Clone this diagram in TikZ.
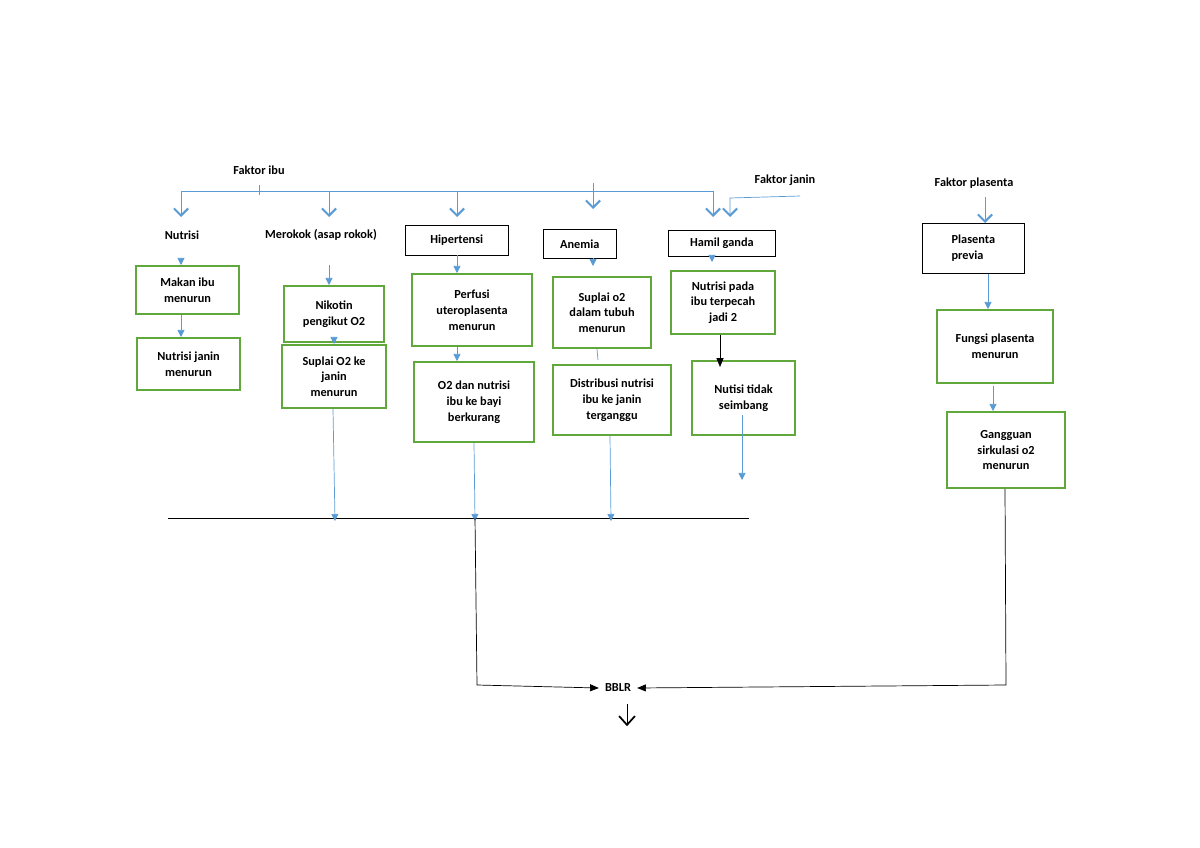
\documentclass[tikz,border=0pt]{standalone}
\usepackage{fontspec}
\setmainfont{Carlito}
\usetikzlibrary{positioning,arrows.meta}
\tikzset{>=stealth}
\definecolor{gbox}{RGB}{96,168,60}
\definecolor{barrow}{RGB}{91,155,213}
\tikzset{
  gb/.style={draw=gbox,line width=1.2pt,align=center,font=\bfseries\fontsize{7}{9}\selectfont,anchor=north west,inner sep=1pt},
  kb/.style={draw=black,thin,align=left,font=\bfseries\fontsize{7}{9}\selectfont,anchor=north west,inner sep=2pt},
  lb/.style={font=\bfseries\fontsize{7}{9}\selectfont},
  bl/.style={draw=barrow,thin,-{Triangle[length=4pt,width=4pt]}},
  bv/.style={draw=barrow,thin,-{Straight Barb[length=4pt,width=8pt,line width=1.2pt]}},
  kl/.style={draw=black,thin,-{Triangle[length=5pt,width=4pt]}}
}
\begin{document}
\begin{tikzpicture}[x=0.02cm,y=-0.02cm]
\useasboundingbox (0,0) rectangle (1200,848);
% labels
\node[lb] (fibu) at (259,170) {Faktor ibu};
\node[lb] (fjanin) at (785,180) {Faktor janin};
\node[lb] (fplas) at (974,183) {Faktor plasenta};
\node[lb] (nutrisi) at (182,235) {Nutrisi};
\node[lb] (merokok) at (321,235) {Merokok (asap rokok)};
\node[kb,minimum width=2.06cm,minimum height=0.6cm] (hiper) at (405,225) {Hipertensi};
\node[kb,minimum width=1.46cm,minimum height=0.58cm] (anemia) at (543,229) {Anemia};
\node[kb,minimum width=2.14cm,minimum height=0.52cm] (hamil) at (668,230) {Hamil ganda};
\node[kb,align=left,minimum width=2.04cm,minimum height=1cm] (previa) at (922,223) {Plasenta\\previa};
% green boxes
\node[gb,minimum width=2.06cm,minimum height=0.96cm] (makan) at (135,265) {Makan ibu\\menurun};
\node[gb,minimum width=2.06cm,minimum height=1.04cm] (njanin) at (136,337) {Nutrisi janin\\menurun};
\node[gb,minimum width=2cm,minimum height=1.12cm] (nikotin) at (283,285) {Nikotin\\pengikut O2};
\node[gb,minimum width=2.08cm,minimum height=1.26cm] (suplai) at (281,344) {Suplai O2 ke\\janin\\menurun};
\node[gb,minimum width=2.4cm,minimum height=1.44cm] (perfusi) at (411,273) {Perfusi\\uteroplasenta\\menurun};
\node[gb,minimum width=2.4cm,minimum height=1.6cm] (odua) at (413,361) {O2 dan nutrisi\\ibu ke bayi\\berkurang};
\node[gb,minimum width=1.96cm,minimum height=1.42cm] (suplaio) at (552,276) {Suplai o2\\dalam tubuh\\menurun};
\node[gb,minimum width=2.36cm,minimum height=1.4cm] (distri) at (552,364) {Distribusi nutrisi\\ibu ke janin\\terganggu};
\node[gb,minimum width=2.08cm,minimum height=1.26cm] (terpecah) at (670,270) {Nutrisi pada\\ibu terpecah\\jadi 2};
\node[gb,minimum width=2.06cm,minimum height=1.48cm] (tidak) at (691,360) {Nutisi tidak\\seimbang};
\node[gb,minimum width=2.32cm,minimum height=1.46cm] (fungsi) at (936,309) {Fungsi plasenta\\menurun};
\node[gb,minimum width=2.36cm,minimum height=1.52cm] (gangguan) at (946,411) {Gangguan\\sirkulasi o2\\menurun};
\node[lb] (bblr) at (618,688) {BBLR};
% top distribution
\coordinate (tl) at (181,191);
\coordinate (tr) at (713,191);
\draw[barrow,thin] (tl) -- (tr) (fibu.south) ++(0,4) -- ++(0,10);
\foreach \x in {181,329,457,713} \draw[bv] (\x,191) -- (\x,217);
\draw[bv] (593,183) -- (593,209);
\draw[bv] (800,196) -- (730,198) -- (730,217);
\draw[bv] (985,197) -- (previa.north -| 985,0);
% small arrows
\draw[bl] (181,258) -- (makan.north -| 181,0);
\draw[bl] (329,265) -- (nikotin.north -| 329,0);
\draw[bl] (457,255) -- (perfusi.north -| 457,0);
\draw[bl] (593,258) -- (593,266);
\draw[bl] (712,255) -- (712,262);
\draw[bl] (makan.south -| 181,0) -- (njanin.north -| 181,0);
\draw[bl] (nikotin.south -| 334,0) -- (suplai.north -| 334,0);
\draw[bl] (perfusi.south -| 457,0) -- (odua.north -| 457,0);
\draw[barrow,thin] (suplaio.south -| 597,0) -- (598,360);
\draw[kl] (terpecah.south -| 720,0) -- (720,367);
\draw[bl] (742,415) -- (742,480);
\draw[bl] (previa.south -| 988,0) -- (fungsi.north -| 988,0);
\draw[bl] (993,386) -- (gangguan.north -| 993,0);
% to baseline
\coordinate (bll) at (168,518);
\coordinate (blr) at (749,518);
\draw[black,thin] (bll) -- (blr);
\draw[bl] (suplai.south -| 333,0) -- (335,521);
\draw[bl] (odua.south -| 474,0) -- (475,521);
\draw[bl] (distri.south -| 610,0) -- (611,521);
% to BBLR
\draw[kl] (475,518) -- (477,685) -- (bblr.west);
\draw[kl] (gangguan.south -| 1005,0) -- (1006,685) -- (bblr.east);
\draw[-{Straight Barb[length=5pt,width=9pt,line width=1pt]},thin] (bblr.south) ++(9,6) -- ++(0,22);
\end{tikzpicture}
\end{document}
